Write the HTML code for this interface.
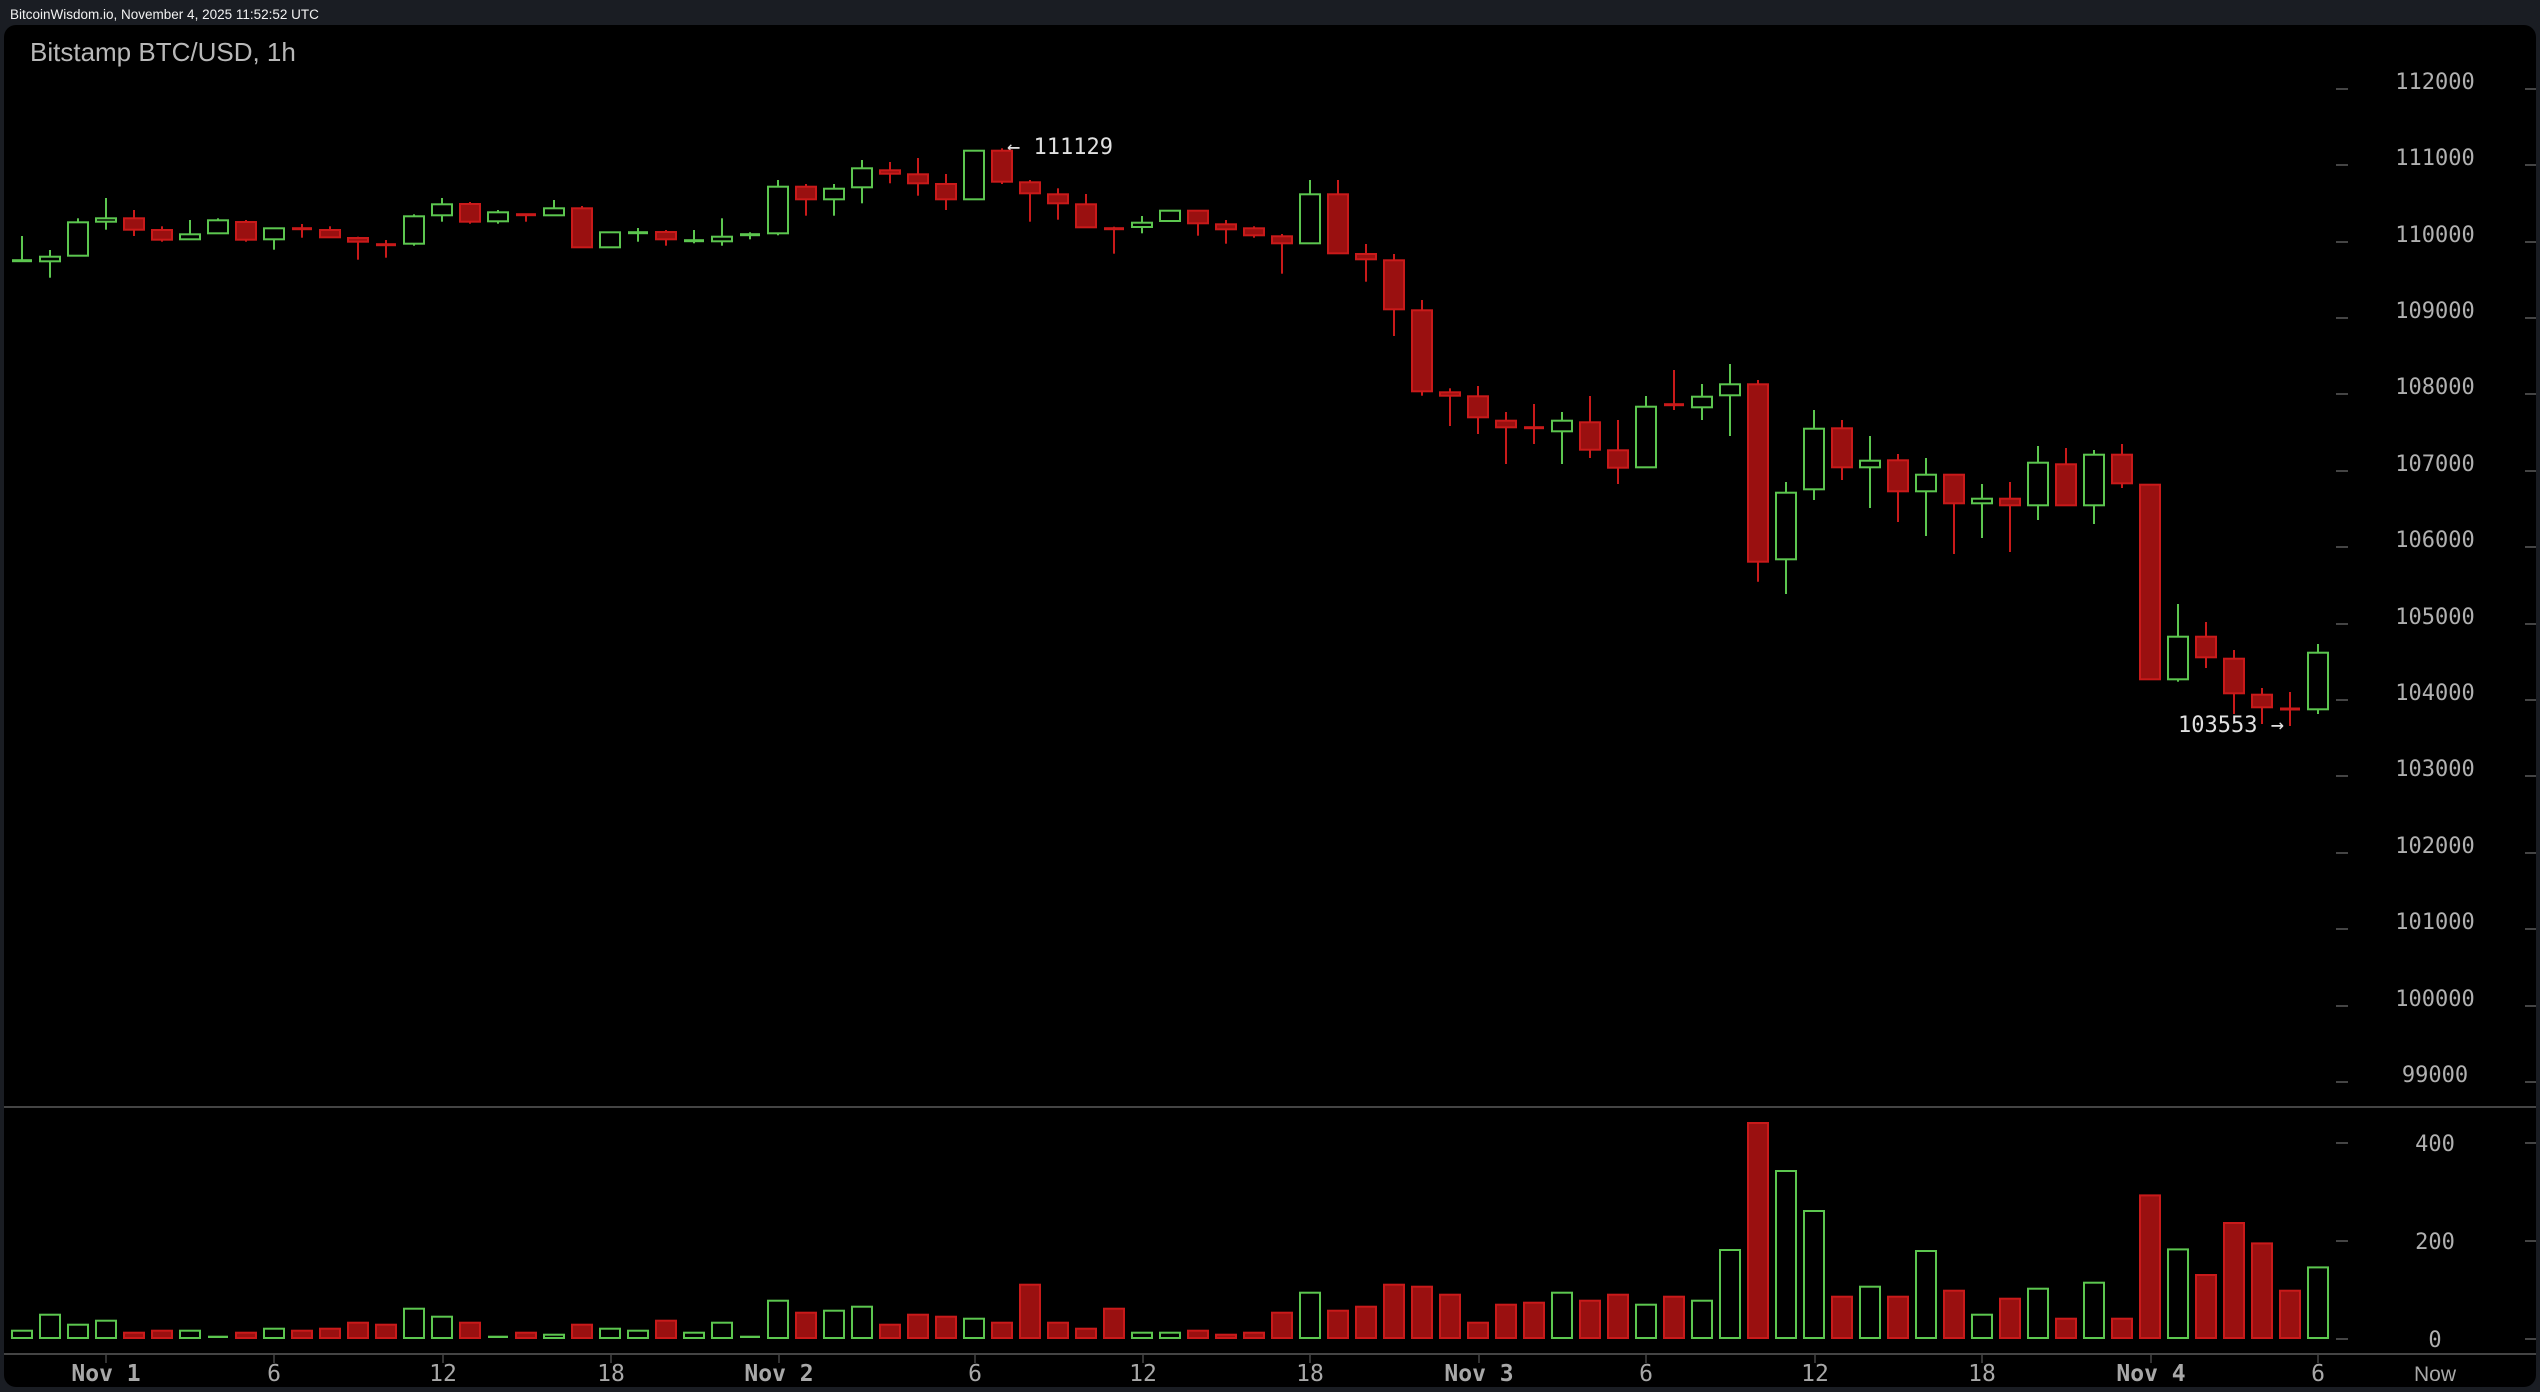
<!DOCTYPE html>
<html><head><meta charset="utf-8"><style>
html,body{margin:0;padding:0;background:#1a1d23;width:2540px;height:1392px;overflow:hidden}
svg{display:block}
.mono{font-family:"DejaVu Sans Mono","Liberation Mono",monospace}
</style></head><body>
<svg id="s" width="2540" height="1392" xmlns="http://www.w3.org/2000/svg">
<rect x="0" y="0" width="2540" height="1392" fill="#1a1d23"/>
<text x="10" y="19" font-family="Liberation Sans, sans-serif" font-size="13.5" fill="#f2f2f2">BitcoinWisdom.io, November 4, 2025 11:52:52 UTC</text>
<rect x="4" y="25" width="2532" height="1362" rx="12" fill="#000"/>
<text x="30" y="61" font-family="Liberation Sans, sans-serif" font-size="26" fill="#b8b8b8">Bitstamp BTC/USD, 1h</text>
<line x1="4" y1="1107" x2="2536" y2="1107" stroke="#444" stroke-width="2"/>
<line x1="4" y1="1354" x2="2536" y2="1354" stroke="#444" stroke-width="2"/>
<g class="mono" font-size="22" fill="#b0b0b0" text-anchor="middle">
<text x="2435" y="89">112000</text>
<text x="2435" y="165">111000</text>
<text x="2435" y="242">110000</text>
<text x="2435" y="318">109000</text>
<text x="2435" y="394">108000</text>
<text x="2435" y="471">107000</text>
<text x="2435" y="547">106000</text>
<text x="2435" y="624">105000</text>
<text x="2435" y="700">104000</text>
<text x="2435" y="776">103000</text>
<text x="2435" y="853">102000</text>
<text x="2435" y="929">101000</text>
<text x="2435" y="1006">100000</text>
<text x="2435" y="1082">99000</text>
<text x="2435" y="1151">400</text>
<text x="2435" y="1249">200</text>
<text x="2435" y="1347">0</text>
</g>
<g class="mono" font-size="23" fill="#a8a8a8" text-anchor="middle">
<text x="106" y="1381" font-weight="bold">Nov 1</text>
<text x="274" y="1381">6</text>
<text x="443" y="1381">12</text>
<text x="611" y="1381">18</text>
<text x="779" y="1381" font-weight="bold">Nov 2</text>
<text x="975" y="1381">6</text>
<text x="1143" y="1381">12</text>
<text x="1310" y="1381">18</text>
<text x="1479" y="1381" font-weight="bold">Nov 3</text>
<text x="1646" y="1381">6</text>
<text x="1815" y="1381">12</text>
<text x="1982" y="1381">18</text>
<text x="2151" y="1381" font-weight="bold">Nov 4</text>
<text x="2318" y="1381">6</text>
<text x="2435" y="1381" font-family="Liberation Sans, sans-serif" font-size="21">Now</text>
</g>
<g class="mono" font-size="22" fill="#e0e0e0">
<text x="1007" y="154">← 111129</text>
<text x="2178" y="732">103553 →</text>
</g>
<g id="g"></g>
</svg>
<script>
var C=[
["G",260.7,260.7,236,260.7],["G",256.7,261.3,250,277.7],["G",222.3,255.7,218.3,255.7],["G",218.3,221.7,198,229.7],
["R",218.3,229.7,210,236],["R",230,239.7,226.3,241.7],["G",234.3,239.3,220,239.3],["G",220.3,233.3,218.3,233.3],
["R",222,239.7,220,241.7],["G",228.3,239.3,228.3,249.7],["R",228.7,228.7,224,237.7],["R",230,237.3,226.3,237.3],
["R",238,241.7,236.7,259.7],["R",244.7,244.7,240,257.7],["G",216.3,243.7,214.3,245.7],["G",204.3,215.3,198,221.7],
["R",204,221.7,202,223.7],["G",212.3,221.3,210,223.7],["R",214.7,214.7,214.7,221.7],["G",208.3,215.3,200,215.3],
["R",208.3,247.3,206,247.3],["G",232.3,247.3,232.3,247.3],["G",232.7,232.7,228,241.7],["R",232,239.3,230,245.7],
["G",240.7,240.7,230,243.3],["G",236.7,241.3,218.3,245.7],["G",234.7,234.7,232.3,239.3],["G",186.7,233.3,180,235.3],
["R",186.7,199.3,184,215.7],["G",188.7,199.3,184,215.7],["G",168.3,187.3,160,203.3],["R",170.3,173.7,162,183.3],
["R",174.3,183.3,158,195.7],["R",184,199.3,174,210],["G",150.7,199.3,150.7,199.3],["R",150.7,181.7,148.3,184],
["R",182.3,193.3,180,221.7],["R",194.3,203.3,188.3,219.7],["R",204.3,227.3,194,227.3],["R",228.7,228.7,226.7,253.7],
["G",222.7,227,216,233.3],["G",210.7,221,210.7,221],["R",210.7,223.3,210.7,235.7],["R",224.3,229.3,220,243.7],
["R",228.3,235.3,226.3,237.7],["R",236.3,243.3,234,273.7],["G",194.3,243.3,180,243.3],["R",194.3,253.3,180,253.3],
["R",254,259.3,244,281.7],["R",260.3,309.3,254,336],["R",310.3,391.3,300,395.7],["R",392.3,395.7,388.3,426],
["R",396.3,417.3,386,434],["R",420.7,427.3,412,464],["R",427.7,427.7,404,444],["G",420.7,431.3,412,464],
["R",422.3,449.7,396,458],["R",450.3,467.7,420,484],["G",406.7,467.3,396,467.3],["R",404.7,404.7,370,410],
["G",396.7,407.3,384,420],["G",384.3,395.3,364,436],["R",384.3,561.7,380,581.7],["G",492.7,559.3,482,594],
["G",428.7,489.3,410,500],["R",428.3,467.3,420,480],["G",460.7,467.3,436,508],["R",460.3,491.3,454,522],
["G",474.7,491.3,458,536],["R",474.7,503.3,474.7,554],["G",498.7,503.3,484,538],["R",498.7,505.3,482,552],
["G",462.7,505.3,446,520],["R",464.3,505.3,448,505.3],["G",454.7,505.3,450,524],["R",454.7,483.3,444,488],
["R",484.7,679.3,484.7,679.3],["G",636.7,679.3,604,681.7],["R",636.7,657.3,622,668],["R",658.7,693.3,650,714],
["R",694.7,707.3,688,724],["R",709,709,692,726],["G",652.7,709.3,644,714]];
var V=[7.3,23.3,13.3,17.3,5.3,7.3,7.3,1.3,5.3,9.3,7.3,9.3,15.3,13.3,29.3,21.3,15.3,1.3,5.3,3.3,13.3,9.3,7.3,17.3,5.3,15.3,1.3,37.3,25.3,27.3,31.3,13.3,23.3,21.3,19.3,15.3,53.3,15.3,9.3,29.3,5.3,5.3,7.3,3.3,5.3,25.3,45.3,27.3,31.3,53.3,51.3,43.3,15.3,33.3,35.3,45.3,37.3,43.3,33.3,41.3,37.3,88,215,167,127,41.3,51.3,41.3,87,47.3,23.3,39.3,49.3,19.3,55.3,19.3,142.6,88.6,63,115,94.6,47.3,70.6];
var NS="http://www.w3.org/2000/svg",g=document.getElementById("g");
function el(t,a){var e=document.createElementNS(NS,t);for(var k in a)e.setAttribute(k,a[k]);g.appendChild(e);}
var GS="#5cc64f",RS="#c91a1a",RF="#9a1010";
[89,165,242,318,394,471,547,624,700,776,853,929,1006,1082,1143,1241,1339].forEach(function(y){
 el("line",{x1:2336,y1:y,x2:2348,y2:y,stroke:"#444","stroke-width":2});
 el("line",{x1:2525,y1:y,x2:2536,y2:y,stroke:"#444","stroke-width":2});});
[106,274,443,611,779,975,1143,1310,1479,1646,1815,1982,2151,2318].forEach(function(x){
 el("line",{x1:x,y1:1355,x2:x,y2:1363,stroke:"#444","stroke-width":1.5});});
C.forEach(function(c,i){
 var x=22+28*i,s=c[0]=="G"?GS:RS,f=c[0]=="G"?"none":RF;
 var t=c[1],b=c[2];
 el("line",{x1:x,y1:c[3],x2:x,y2:c[4],stroke:s,"stroke-width":2});
 if(b-t<3){el("rect",{x:x-10,y:(t+b)/2-1.5,width:20,height:3,fill:s});}
 else{ if(c[0]=="G") el("rect",{x:x-10,y:t,width:20,height:b-t,fill:"#000",stroke:s,"stroke-width":2});
       else el("rect",{x:x-10,y:t,width:20,height:b-t,fill:f,stroke:s,"stroke-width":2});}
 var h=V[i],y0=1338;
 if(h<3){el("rect",{x:x-10,y:y0-h-1,width:20,height:h+1,fill:s});}
 else if(c[0]=="G") el("rect",{x:x-10,y:y0-h,width:20,height:h,fill:"none",stroke:s,"stroke-width":2});
 else el("rect",{x:x-10,y:y0-h,width:20,height:h,fill:RF,stroke:RS,"stroke-width":2});
});
</script>
</body></html>
